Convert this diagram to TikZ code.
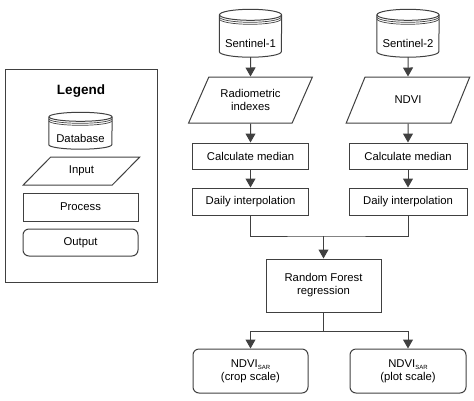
\documentclass[tikz,border=0pt]{standalone}
\usepackage{fontspec}
\setmainfont{Liberation Sans}
\usepackage{tikz}
\usetikzlibrary{shapes.geometric}
\usetikzlibrary{arrows.meta}
\usetikzlibrary{calc}

\definecolor{linecol}{gray}{0.25}
\newcommand{\sar}{\raisebox{-0.4ex}{\fontsize{6}{6}\selectfont SAR}}

% cylinder outline round a database node: node, half width, offset of top, ellipse radius
\newcommand{\dbdraw}[4]{%
	\draw[wire] ($(#1.north)+(0,#3)$) ellipse [x radius=#2, y radius=#4];
	\draw[wire] ($(#1.north west)+(0,#3)$) -- ($(#1.south west)+(0,#4)$)
		arc [start angle=180, end angle=360, x radius=#2, y radius=#4] -- ($(#1.north east)+(0,#3)$);
	\foreach \d in {2,4}
		\draw[wire, line width=0.7pt] ($(#1.north west)+(0,#3-\d)$) arc [start angle=180, end angle=360, x radius=#2, y radius=#4];
}

\begin{document}
\begin{tikzpicture}
	[x=1pt, y=1pt, font=\fontsize{11.3}{13}\selectfont,
	wire/.style = {draw=linecol, line width=1pt},
	arr/.style = {wire, -{Triangle[width=10pt,length=9pt]}},
	main/.style = {draw=linecol, line width=1pt, align=center, minimum width=116pt, inner sep=1pt},
	proc/.style = {main, rectangle},
	outp/.style = {main, rectangle, rounded corners=6pt},
	inp/.style = {main, trapezium, trapezium left angle=57, trapezium right angle=123, trapezium stretches=true, minimum width=124pt},
	dbase/.style = {rectangle, minimum width=62pt, inner sep=0pt}]
	\useasboundingbox (0,0) rectangle (474,-400);
	% legend
	\node[draw=linecol, line width=1pt, minimum width=152pt, minimum height=213pt] (legend) at (81,-175.5) {};
	\node[font=\fontsize{13.5}{15}\selectfont\bfseries] (title) at (81,-91) {Legend};
	\node[dbase, minimum width=63pt, minimum height=22pt] (db) at (80.5,-138) {Database};
	\node[inp, minimum width=117pt, minimum height=28pt, trapezium left angle=45, trapezium right angle=135] (inp) at (81.5,-171) {Input};
	\node[proc, minimum width=115pt, minimum height=28pt] (proc) at (80.5,-207) {Process};
	\node[outp, minimum width=115pt, minimum height=27pt] (outp) at (80.5,-242.5) {Output};
	\dbdraw{db}{31.5}{10}{4.5}
	% Sentinel-1 branch
	\node[dbase, minimum height=27pt] (s1) at (250.5,-43.5) {Sentinel-1};
	\node[inp, minimum height=46pt] (rad) [below of = s1, node distance=56.5pt] {Radiometric\\indexes};
	\node[proc, minimum height=26pt] (cm1) [below of = rad, node distance=56pt] {Calculate median};
	\node[proc, minimum height=27pt] (di1) [below of = cm1, node distance=45.5pt] {Daily interpolation};
	% Sentinel-2 branch
	\node[dbase, minimum height=27pt] (s2) [right of = s1, node distance=157.5pt] {Sentinel-2};
	\node[inp, minimum height=46pt] (ndvi) [below of = s2, node distance=56.5pt] {NDVI};
	\node[proc, minimum height=26pt, minimum width=118pt] (cm2) [below of = ndvi, node distance=56pt] {Calculate median};
	\node[proc, minimum height=27pt, minimum width=118pt] (di2) [below of = cm2, node distance=45.5pt] {Daily interpolation};
	\dbdraw{s1}{31}{15}{5.5}
	\dbdraw{s2}{31}{15}{5.5}
	% model and outputs
	\node[proc, minimum width=115pt, minimum height=53pt] (rf) at (323.5,-285.5) {Random Forest\\regression};
	\node[outp, minimum width=115pt, minimum height=44pt] (o1) [below of = di1, node distance=169.5pt] {NDVI\sar\\(crop scale)};
	\node[outp, minimum width=116pt, minimum height=44pt] (o2) [below of = di2, node distance=169.5pt] {NDVI\sar\\(plot scale)};
	\coordinate (join) at (323.5,-236);
	\coordinate (split) at (323.5,-331);
	\draw[arr] (s1) -- (rad);
	\draw[arr] (rad) -- (cm1);
	\draw[arr] (cm1) -- (di1);
	\draw[arr] (s2) -- (ndvi);
	\draw[arr] (ndvi) -- (cm2);
	\draw[arr] (cm2) -- (di2);
	\draw[wire] (di1) |- (join) -| (di2);
	\draw[arr] (join) -- (rf);
	\draw[wire] (rf) -- (split);
	\draw[arr] (split) -| (o1);
	\draw[arr] (split) -| (o2);
\end{tikzpicture}
\end{document}
